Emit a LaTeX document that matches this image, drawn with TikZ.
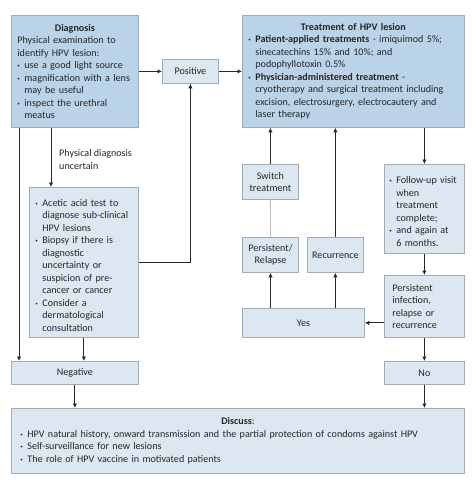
\documentclass[tikz,border=0pt]{standalone}
\usepackage{fontspec}
\setmainfont{Carlito}
\usetikzlibrary{arrows.meta}
\definecolor{darkfill}{RGB}{186,211,233}
\definecolor{lightfill}{RGB}{221,231,242}
\definecolor{edgecol}{RGB}{160,172,184}
\definecolor{linecol}{RGB}{40,40,40}
\newcommand\bul{\makebox[7pt][l]{\raisebox{1pt}{\tiny\textbullet}}}
\newcommand\bitem[1]{\par\noindent\bul\begin{minipage}[t]{\dimexpr\linewidth-7pt\relax}\raggedright #1\par\xdef\tpd{\the\prevdepth}\end{minipage}\par\prevdepth=\tpd\relax}
\tikzset{
  base/.style={draw=edgecol, line width=0.8pt, anchor=north west, inner xsep=6pt, inner ysep=2pt,
    font=\fontsize{10.1}{12.5}\selectfont, text=black!85},
  darkbox/.style={base, fill=darkfill},
  lightbox/.style={base, fill=lightfill},
  arr/.style={draw=linecol, line width=0.9pt, -{Latex[length=4.5pt,width=4.5pt]}},
  plain/.style={draw=linecol, line width=0.9pt},
  faint/.style={draw=black!25, line width=0.9pt},
}
\begin{document}
\begin{tikzpicture}[x=1pt,y=-1pt]
\useasboundingbox (0,0) rectangle (474,488);
\fill[white] (0,0) rectangle (474,488);

\node[darkbox, minimum width=127pt, minimum height=112pt, text width=115pt, align=left] (diag) at (11,15)
{\centering\textbf{Diagnosis}\par
\raggedright Physical examination to\\identify HPV lesion:
\bitem{use a good light source}
\bitem{magnification with a lens\\may be useful}
\bitem{inspect the urethral\\meatus}};

\node[lightbox, minimum width=56pt, minimum height=24pt, align=center] (pos) at (162,59) {Positive};

\node[darkbox, minimum width=222pt, minimum height=112pt, text width=210pt, align=left] (treat) at (242,15)
{\centering\textbf{Treatment of HPV lesion}\par\raggedright
\bitem{\textbf{Patient-applied treatments} - imiquimod 5\%;\\sinecatechins 15\% and 10\%; and\\podophyllotoxin 0.5\%}
\bitem{\textbf{Physician-administered treatment} -\\cryotherapy and surgical treatment including\\excision, electrosurgery, electrocautery and\\laser therapy}};

\node[lightbox, minimum width=109pt, minimum height=150pt, text width=97pt, align=left] (acet) at (29,187)
{\raggedright
\bitem{Acetic acid test to\\diagnose sub-clinical\\HPV lesions}
\bitem{Biopsy if there is\\diagnostic\\uncertainty or\\suspicion of pre-\\cancer or cancer}
\bitem{Consider a\\dermatological\\consultation}};

\node[anchor=west, align=left, inner sep=0pt, font=\fontsize{10.1}{12.5}\selectfont, text=black!85] (unc) at (59,159.5) {Physical diagnosis\\uncertain};

\node[lightbox, minimum width=56pt, minimum height=35pt, align=center] (switch) at (242,164) {Switch\\treatment};
\node[lightbox, minimum width=56pt, minimum height=35pt, align=center] (relap) at (242,237) {Persistent/\\Relapse};
\node[lightbox, minimum width=56pt, minimum height=35pt, align=center, inner xsep=2pt] (recur) at (307,237) {Recurrence};

\node[lightbox, minimum width=80pt, minimum height=89pt, inner xsep=5pt, text width=70pt, align=left] (follow) at (384,164)
{\raggedright
\bitem{Follow-up visit\\when\\treatment\\complete;}
\bitem{and again at\\6 months.}};

\node[lightbox, minimum width=80pt, minimum height=62pt, inner xsep=8pt, text width=64pt, align=left] (pers) at (384,275)
{Persistent\\infection,\\relapse or\\recurrence};

\node[lightbox, minimum width=122pt, minimum height=29pt, align=center] (yes) at (242,308) {Yes};
\node[lightbox, minimum width=127pt, minimum height=23pt, align=center] (neg) at (11,361) {Negative};
\node[lightbox, minimum width=80pt, minimum height=23pt, align=center] (no) at (384,361) {No};

\node[lightbox, minimum width=453pt, minimum height=65pt, inner xsep=9pt, text width=435pt, align=left] (disc) at (11,408)
{\centering\textbf{Discuss}:\par\raggedright
\bitem{HPV natural history, onward transmission and the partial protection of condoms against HPV}
\bitem{Self-surveillance for new lesions}
\bitem{The role of HPV vaccine in motivated patients}};

% connectors
\draw[arr] (pos.west -| diag.east) -- (pos.west);
\draw[arr] (pos.east) -- (pos.east -| treat.west);
\draw[arr] ([xshift=8pt]diag.south west) -- ([xshift=8pt]neg.north west);
\draw[arr] ([xshift=40pt]diag.south west) -- ([xshift=40pt]diag.south west |- acet.north);
\draw[arr] (acet.east) -| (pos.south);
\draw[arr] (acet.south) -- (acet.south |- neg.north);
\draw[arr] (neg.south) -- (neg.south |- disc.north);
\draw[arr] (no.south) -- (no.south |- disc.north);
\draw[arr] (follow.north |- treat.south) -- (follow.north);
\draw[arr] (follow.south) -- (pers.north);
\draw[arr] (pers.west |- yes.east) -- (yes.east);
\draw[arr] (pers.south) -- (no.north);
\draw[arr] (relap.south |- yes.north) -- (relap.south);
\draw[arr] (recur.south |- yes.north) -- (recur.south);
\draw[arr] (recur.north) -- (recur.north |- treat.south);
\draw[arr] (switch.north) -- (switch.north |- treat.south);
\draw[faint] (relap.north) -- (switch.south);
\end{tikzpicture}
\end{document}
